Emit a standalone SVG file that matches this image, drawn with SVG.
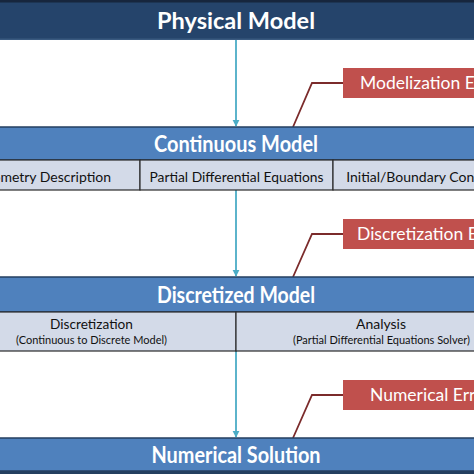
<svg xmlns="http://www.w3.org/2000/svg" width="474" height="474" viewBox="0 0 474 474">
<defs>
<style>
.title{font-family:Lato,"Open Sans","Liberation Sans",sans-serif;font-weight:bold;font-size:22.5px;fill:#ffffff;text-anchor:middle}
.cell{font-family:Lato,"Open Sans","Liberation Sans",sans-serif;font-size:14px;fill:#111111;text-anchor:middle}
.small{font-family:Lato,"Open Sans","Liberation Sans",sans-serif;font-size:11px;fill:#111111;text-anchor:middle}
.err{font-family:Lato,"Open Sans","Liberation Sans",sans-serif;font-size:17.5px;fill:#ffffff}
.bar{fill:#4F81BD;stroke:#243F60;stroke-width:1.5}
.sub{fill:#D3DAE8;stroke:#2B2B2B;stroke-width:1.2}
.red{fill:#C0504D}
.flow{stroke:#4BACC6;stroke-width:1.8;fill:none}
.lead{stroke:#7B2B2B;stroke-width:1.8;fill:none}
</style>
<marker id="ah" viewBox="0 0 10 10" refX="9" refY="5" markerWidth="4" markerHeight="4" orient="auto">
<path d="M0,0 L10,5 L0,10 z" fill="#4BACC6"/>
</marker>
</defs>
<rect width="474" height="474" fill="#ffffff"/>

<g id="connectors">
<line class="flow" x1="236" y1="40" x2="236" y2="126" marker-end="url(#ah)"/>
<line class="flow" x1="236" y1="190" x2="236" y2="276" marker-end="url(#ah)"/>
<line class="flow" x1="236" y1="351" x2="236" y2="437" marker-end="url(#ah)"/>
<polyline class="lead" points="343,83 312,83 293,127"/>
<polyline class="lead" points="343,234 312,234 293,277"/>
<polyline class="lead" points="343,395 312,395 293,438"/>
</g>

<g id="physical-model">
<rect x="-10" y="0" width="494" height="40" fill="#25446B"/>
<rect x="-10" y="0" width="494" height="2.5" fill="#17263D"/>
<rect x="-10" y="38.5" width="494" height="1.5" fill="#3A5A80"/>
<text class="title" x="236" y="29" textLength="158" lengthAdjust="spacingAndGlyphs">Physical Model</text>
</g>

<g id="continuous-model">
<rect class="bar" x="-10" y="127" width="494" height="33"/>
<text class="title" x="236" y="151.5" textLength="164" lengthAdjust="spacingAndGlyphs">Continuous Model</text>
<rect class="sub" x="-60" y="160" width="200" height="30"/>
<rect class="sub" x="140" y="160" width="193" height="30"/>
<rect class="sub" x="333" y="160" width="200" height="30"/>
<text class="cell" x="43" y="182">Geometry Description</text>
<text class="cell" x="236.5" y="182" textLength="174" lengthAdjust="spacingAndGlyphs">Partial Differential Equations</text>
<text class="cell" x="431" y="182">Initial/Boundary Conditions</text>
</g>

<g id="discretized-model">
<rect class="bar" x="-10" y="277" width="494" height="35"/>
<text class="title" x="236" y="302.5" textLength="158" lengthAdjust="spacingAndGlyphs">Discretized Model</text>
<rect class="sub" x="-60" y="312" width="296" height="39"/>
<rect class="sub" x="236" y="312" width="296" height="39"/>
<text class="cell" x="91.5" y="329" textLength="83" lengthAdjust="spacingAndGlyphs">Discretization</text>
<text class="small" x="91.5" y="344" textLength="151" lengthAdjust="spacingAndGlyphs">(Continuous to Discrete Model)</text>
<text class="cell" x="381" y="329" textLength="50" lengthAdjust="spacingAndGlyphs">Analysis</text>
<text class="small" x="381.5" y="344" textLength="177" lengthAdjust="spacingAndGlyphs">(Partial Differential Equations Solver)</text>
</g>

<g id="numerical-solution">
<rect class="bar" x="-10" y="438" width="494" height="33"/>
<rect x="-10" y="471" width="494" height="3" fill="#243F60"/>
<text class="title" x="236" y="462.5" textLength="169" lengthAdjust="spacingAndGlyphs">Numerical Solution</text>
</g>

<g id="modelization-error">
<rect class="red" x="343" y="68" width="200" height="30"/>
<text class="err" x="360" y="89">Modelization Error</text>
</g>
<g id="discretization-error">
<rect class="red" x="343" y="219" width="200" height="30"/>
<text class="err" x="357" y="240">Discretization Error</text>
</g>
<g id="numerical-error">
<rect class="red" x="343" y="380" width="200" height="30"/>
<text class="err" x="370" y="401">Numerical Error</text>
</g>
</svg>
